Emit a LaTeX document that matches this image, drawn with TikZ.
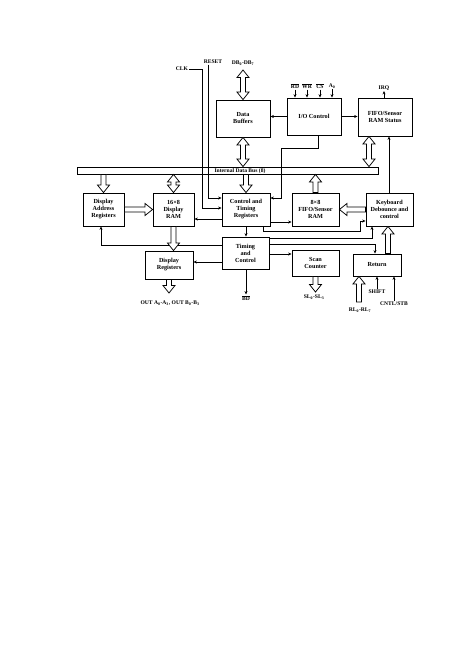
\documentclass[tikz,border=0pt]{standalone}
\usepackage{fontspec}
\setmainfont{Liberation Serif}
\usetikzlibrary{calc,arrows.meta}
\def\hsw{2.6pt}
\def\hhw{6pt}
\def\hhl{7.5pt}
\newcommand{\hollowV}[2]{%
\draw[hol] let \p1=(#1),\p2=(#2),\n1={sign(\y1-(\y2))} in
 ({\x1-\hsw},\y1) -- ({\x1-\hsw},{\y2+\n1*\hhl}) -- ({\x1-\hhw},{\y2+\n1*\hhl}) -- (\x1,\y2)
 -- ({\x1+\hhw},{\y2+\n1*\hhl}) -- ({\x1+\hsw},{\y2+\n1*\hhl}) -- ({\x1+\hsw},\y1) -- cycle;}
\newcommand{\hollowVV}[2]{%
\draw[hol] let \p1=(#1),\p2=(#2),\n1={sign(\y1-(\y2))} in
 (\x1,\y1) -- ({\x1+\hhw},{\y1-\n1*\hhl}) -- ({\x1+\hsw},{\y1-\n1*\hhl}) -- ({\x1+\hsw},{\y2+\n1*\hhl})
 -- ({\x1+\hhw},{\y2+\n1*\hhl}) -- (\x1,\y2) -- ({\x1-\hhw},{\y2+\n1*\hhl}) -- ({\x1-\hsw},{\y2+\n1*\hhl})
 -- ({\x1-\hsw},{\y1-\n1*\hhl}) -- ({\x1-\hhw},{\y1-\n1*\hhl}) -- cycle;}
\newcommand{\hollowH}[2]{%
\draw[hol] let \p1=(#1),\p2=(#2),\n1={sign(\x1-(\x2))} in
 (\x1,{\y1-\hsw}) -- ({\x2+\n1*\hhl},{\y1-\hsw}) -- ({\x2+\n1*\hhl},{\y1-\hhw}) -- (\x2,\y1)
 -- ({\x2+\n1*\hhl},{\y1+\hhw}) -- ({\x2+\n1*\hhl},{\y1+\hsw}) -- (\x1,{\y1+\hsw}) -- cycle;}
\begin{document}
\begin{tikzpicture}[x=1pt,y=-1pt,
 blk/.style={draw, line width=0.9pt, align=center, font=\fontsize{6.2}{7}\selectfont\bfseries, inner sep=0pt},
 ln/.style={line width=0.65pt},
 arr/.style={ln, -{Stealth[length=3.4pt,width=3pt]}},
 hol/.style={draw, line width=0.75pt, fill=white},
 lbl/.style={font=\fontsize{5.6}{6.4}\selectfont\bfseries, inner sep=0.5pt}]
\useasboundingbox[fill=white] (0,0) rectangle (474,670);

% blocks
\node[blk, minimum width=54pt, minimum height=37pt] (db) at (243,118.5) {Data\\Buffers};
\node[blk, minimum width=54pt, minimum height=37pt] (ioc) at (314,116.5) {I/O Control};
\node[blk, minimum width=54pt, minimum height=38pt] (fst) at (385,117) {FIFO/Sensor\\RAM Status};
\node[draw, line width=0.9pt, minimum width=301pt, minimum height=7pt, inner sep=0pt] (bus) at (227.5,170.5) {};
\node[font=\fontsize{5.6}{6}\selectfont\bfseries, inner sep=0pt] (busl) at (240,170.7) {Internal Data Bus (8)};
\node[blk, minimum width=41pt, minimum height=33pt] (dar) at (103.5,209.5) {Display\\Address\\Registers};
\node[blk, minimum width=41pt, minimum height=33pt] (dram) at (173.5,209.5) {16×8\\Display\\RAM};
\node[blk, minimum width=48pt, minimum height=33pt] (ctr) at (246,209.5) {Control and\\Timing\\Registers};
\node[blk, minimum width=47pt, minimum height=33pt] (fram) at (315.5,209.5) {8×8\\FIFO/Sensor\\RAM};
\node[blk, minimum width=47pt, minimum height=33pt] (kbd) at (389.5,209.5) {Keyboard\\Debounce and\\control};
\node[blk, minimum width=47pt, minimum height=32pt] (tc) at (245.5,253) {Timing\\and\\Control};
\node[blk, minimum width=48pt, minimum height=28pt] (dreg) at (169,265) {Display\\Registers};
\node[blk, minimum width=47pt, minimum height=26pt] (scan) at (315.5,263) {Scan\\Counter};
\node[blk, minimum width=48pt, minimum height=22pt] (ret) at (377,265) {Return};

% labels
\node[lbl] (dbl) at (243,63) {DB\textsubscript{0}-DB\textsubscript{7}};
\node[lbl] (clk) at (182,69) {CLK};
\node[lbl] (reset) at (213,62) {RESET};
\node[lbl] (rd) at (295,86) {$\overline{\mbox{RD}}$};
\node[lbl] (wr) at (307,86) {$\overline{\mbox{WR}}$};
\node[lbl] (cs) at (320,86) {$\overline{\mbox{CS}}$};
\node[lbl] (a0) at (332,86) {A\textsubscript{0}};
\node[lbl] (irq) at (384,88) {IRQ};
\node[lbl] (out) at (170,303) {OUT A\textsubscript{0}-A\textsubscript{3}, OUT B\textsubscript{0}-B\textsubscript{3}};
\node[lbl] (bd) at (246,298) {$\overline{\mbox{BD}}$};
\node[lbl] (sl) at (314,297) {SL\textsubscript{0}-SL\textsubscript{3}};
\node[lbl] (rl) at (360,310) {RL\textsubscript{0}-RL\textsubscript{7}};
\node[lbl] (shift) at (377,292) {SHIFT};
\node[lbl] (cntl) at (394,304) {CNTL/STB};

\coordinate (clkc) at (202,69);
\coordinate (dbtop) at (243,70);
\coordinate (dregout) at (169,293);
\coordinate (scanout) at (315.5,292);
\coordinate (rlin) at (359,302);

% thin connectors
\draw[ln] (clk.east) -- (clkc);
\draw[arr] (clkc) |- (ctr.west |- 0,208);
\draw[arr] (reset.south -| 208,0) |- (ctr.west |- 0,198);
\draw[arr] (rd.south) -- (rd.south |- ioc.north);
\draw[arr] (wr.south) -- (wr.south |- ioc.north);
\draw[arr] (cs.south) -- (cs.south |- ioc.north);
\draw[arr] (a0.south) -- (a0.south |- ioc.north);
\draw[arr] (fst.north -| 384,0) -- (irq.south);
\draw[arr] (ioc.west) -- (ioc.west -| db.east);
\draw[arr] (ioc.east) -- (ioc.east -| fst.west);
\draw[arr] (ioc.south -| 318,0) |- (281,148) |- (ctr.east |- 0,198);
\draw[arr] (kbd.north -| 389,0) -- (fst.south -| 389,0);
\draw[arr] (ctr.west |- 0,219) -- (dram.east |- 0,219);
\draw[arr] (ctr.east |- 0,222) -- (fram.west |- 0,222);
\draw[arr] (ctr.south) -- (tc.north -| ctr.south);
\draw[arr] (ctr.south -| 263,0) |- (360,231) |- (kbd.west |- 0,221);
\draw[arr] (tc.east |- 0,238) -| (kbd.south -| 372,0);
\draw[arr] (tc.east |- 0,244) -| (ret.north -| 375,0);
\draw[arr] (tc.east |- 0,254) -- (scan.west |- 0,254);
\draw[arr] (tc.west |- 0,245) -| (dar.south -| 101,0);
\draw[arr] (tc.west |- 0,262) -- (dreg.east |- 0,262);
\draw[arr] (tc.south -| 246,0) -- (bd.north);
\draw[arr] (shift.north -| 377,0) -- (ret.south -| 377,0);
\draw[arr] (cntl.north -| 394,0) -- (ret.south -| 394,0);

% hollow bus arrows
\hollowVV{dbtop}{db.north}
\hollowVV{db.south}{db.south |- bus.north}
\hollowVV{fst.south -| 369,0}{bus.north -| 369,0}
\hollowV{bus.south -| dar.north}{dar.north}
\hollowVV{bus.south -| dram.north}{dram.north}
\hollowV{bus.south -| ctr.north}{ctr.north}
\hollowV{fram.north}{fram.north |- bus.south}
\hollowH{dar.east}{dram.west}
\hollowH{kbd.west}{fram.east |- kbd.west}
\hollowV{dram.south}{dram.south |- dreg.north}
\hollowV{ret.north -| 388,0}{kbd.south -| 388,0}
\hollowV{dreg.south}{dregout}
\hollowV{scan.south}{scanout}
\hollowV{rlin}{ret.south -| 359,0}
\end{tikzpicture}
\end{document}
